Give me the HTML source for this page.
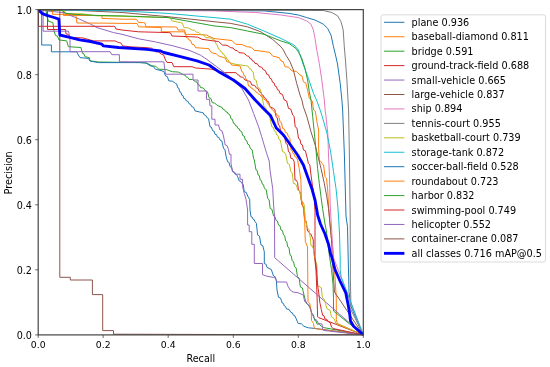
<!DOCTYPE html>
<html><head><meta charset="utf-8"><title>Precision-Recall curve</title>
<style>html,body{margin:0;padding:0;background:#fff;}svg{display:block;}text{font-family:"DejaVu Sans","Liberation Sans",sans-serif;fill:#000;}</style></head><body>
<svg width="550" height="367" viewBox="0 0 550 367">
<rect width="550" height="367" fill="#ffffff"/>
<g fill="none" stroke-width="1.0" stroke-linejoin="round" stroke-linecap="butt" clip-path="url(#clip)">
<defs><clipPath id="clip"><rect x="37.7" y="9.1" width="326.1" height="326.29999999999995"/></clipPath></defs>
<polyline stroke="#1f77b4" points="38.2,9.6 122.0,10.0 214.0,10.5 264.0,10.9 289.0,13.4 298.4,15.0 306.7,17.6 315.0,20.0 323.4,24.2 327.6,28.4 331.0,35.1 333.5,46.8 335.5,55.0 337.5,64.0 340.2,83.4 341.9,100.0 342.7,111.0 344.4,155.0 346.0,216.0 347.5,226.8 348.2,258.0 349.0,291.4 350.4,305.0 363.3,334.9"/>
<polyline stroke="#ff7f0e" points="38.2,9.6 63.3,9.8 63.3,15.4 102.0,15.5 102.0,18.4 122.0,19.2 134.5,19.2 136.8,19.6 138.7,22.6 143.7,22.6 145.0,23.1 146.0,26.8 161.0,26.8 175.5,27.0 176.9,27.4 178.0,30.0 184.7,30.0 185.0,34.3 197.0,34.5 206.3,35.0 214.0,38.5 227.4,40.0 232.0,40.5 235.7,44.3 242.1,44.6 247.4,46.8 251.0,47.2 254.0,50.2 265.8,51.8 269.5,52.3 272.5,56.0 279.2,57.7 281.0,61.0 283.2,61.7 285.0,66.7 288.7,67.2 291.7,70.9 296.3,71.4 300.0,75.0 301.9,75.8 303.4,81.8 305.7,82.8 307.6,90.0 309.3,98.5 311.0,100.0 312.4,101.2 313.6,110.0 315.4,111.4 316.9,121.7 318.6,130.0 318.6,148.5 319.4,161.0 320.7,161.3 321.8,163.4 323.6,165.0 325.0,176.7 326.5,178.3 327.7,190.0 328.5,205.0 329.3,216.0 331.0,235.0 333.0,250.0 335.0,277.0 336.3,298.6 336.3,319.7 337.3,323.4 340.2,324.8 363.3,334.9"/>
<polyline stroke="#2ca02c" points="38.2,9.6 46.0,10.0 46.9,15.9 48.5,21.4 52.9,22.5 54.0,31.2 55.6,35.5 57.4,36.0 58.9,39.9 66.7,40.9 68.4,46.7 80.9,47.5 82.6,53.4 83.9,53.8 85.0,56.7 89.3,57.6 90.0,60.9 98.5,62.0 140.0,62.6 146.6,63.0 152.0,65.9 155.7,66.3 158.8,69.2 166.2,69.5 172.2,71.7 178.6,72.1 183.9,75.0 185.3,75.3 186.4,77.2 187.8,77.4 188.9,79.3 192.6,79.6 195.6,81.8 197.0,82.1 198.1,84.7 199.5,85.0 200.6,87.6 203.3,88.0 205.6,91.0 207.5,91.8 209.0,97.7 210.8,98.3 212.3,102.7 214.7,103.0 216.7,105.0 220.0,106.7 221.6,107.0 222.8,109.2 224.4,109.5 225.7,111.7 227.2,112.0 228.5,114.2 229.9,114.8 231.0,118.8 232.4,119.4 233.5,123.4 234.7,123.7 235.7,125.9 237.0,126.2 238.0,128.5 239.2,128.8 240.2,131.0 241.6,131.5 242.8,135.5 244.2,136.0 245.3,140.0 246.7,140.5 247.8,144.2 249.2,144.8 250.3,148.5 252.1,149.7 253.6,158.5 254.3,160.0 256.0,170.0 257.2,170.6 258.1,175.0 259.3,175.6 260.2,180.0 261.4,180.5 262.3,184.2 263.5,184.7 264.4,188.4 266.2,189.6 267.7,198.5 269.1,199.7 270.2,208.5 272.0,209.4 273.5,215.9 274.9,216.4 276.0,220.4 277.4,221.0 278.5,225.0 279.9,225.6 281.0,230.0 282.4,230.6 283.5,235.0 284.7,235.7 285.6,240.9 286.8,241.6 287.7,246.8 289.0,247.8 290.0,255.0 291.2,255.7 292.2,260.8 293.5,261.5 294.5,266.6 296.1,267.8 297.5,276.8 299.1,278.0 300.4,287.0 302.4,288.0 304.0,295.0 306.0,303.0 308.2,305.0 310.4,308.0 311.8,314.0 313.4,314.8 314.7,320.5 316.0,320.9 317.0,324.0 319.4,324.3 321.3,326.3 324.2,327.7 363.3,334.9"/>
<polyline stroke="#d62728" points="38.2,9.6 47.5,10.0 47.5,29.5 65.5,29.5 66.0,33.9 68.2,34.3 70.0,37.5 82.9,37.9 93.4,40.9 115.0,40.9 118.5,42.5 120.8,42.9 122.7,45.9 130.0,46.8 147.0,47.7 151.6,48.2 155.4,51.7 158.6,52.0 161.3,54.2 163.6,54.9 165.5,60.0 167.0,62.5 172.0,62.5 173.8,66.7 192.0,66.7 195.6,68.0 212.0,69.2 216.7,71.0 225.0,72.6 235.0,72.6 236.4,72.9 237.5,74.7 238.9,75.0 240.0,76.8 242.8,77.2 245.0,80.0 248.5,81.0 250.3,81.5 251.8,85.0 254.6,85.4 256.9,88.5 258.3,88.9 259.4,91.8 260.8,92.1 261.9,95.0 263.3,95.4 264.4,98.0 265.8,98.4 266.9,101.0 268.6,101.7 270.0,106.9 273.4,108.4 274.8,109.4 276.0,116.7 277.3,117.7 278.4,125.0 279.6,125.7 280.5,130.5 281.7,131.2 282.6,136.0 284.5,136.9 286.0,143.5 287.4,144.5 288.5,151.8 289.8,152.6 290.9,158.3 292.7,158.7 294.2,161.7 295.0,180.0 296.4,180.3 297.6,182.6 298.4,190.0 300.0,191.8 302.0,205.0 303.4,206.7 304.5,219.5 306.1,220.9 307.5,231.0 308.7,231.3 309.6,233.7 310.8,234.0 311.8,236.3 313.3,240.0 313.3,247.0 314.7,258.0 316.0,270.0 317.0,295.0 317.6,316.8 318.4,317.5 363.3,334.9"/>
<polyline stroke="#9467bd" points="38.2,9.6 47.0,11.0 63.3,12.6 79.6,19.2 90.5,24.1 97.0,27.6 113.6,32.6 122.0,34.3 138.7,38.8 155.4,41.9 172.0,45.6 189.0,50.2 200.6,55.2 207.0,59.5 216.7,66.7 230.0,76.8 241.8,88.5 248.5,100.0 253.6,113.4 258.6,126.8 261.7,136.8 266.7,153.5 269.2,161.0 270.2,171.7 272.7,188.4 273.6,205.2 274.5,216.0 274.7,257.7 363.3,334.9"/>
<polyline stroke="#8c564b" points="38.2,9.6 80.0,10.5 122.0,12.5 168.0,16.7 214.0,21.7 230.7,23.4 247.4,26.8 260.8,31.8 272.5,39.3 281.0,46.8 283.4,50.0 286.0,55.2 290.0,61.7 293.4,70.0 296.7,83.4 300.0,95.0 301.9,100.0 303.4,106.9 306.9,116.7 311.0,131.8 315.2,145.0 317.6,155.0 321.0,168.4 324.3,183.4 326.8,196.8 328.5,208.5 329.3,216.0 331.5,240.0 333.0,270.0 334.5,292.0 363.3,334.9"/>
<polyline stroke="#e377c2" points="38.2,9.6 122.0,10.2 214.0,10.9 255.8,12.5 281.0,15.0 298.4,17.6 306.7,20.9 311.0,24.2 313.4,30.0 315.0,38.5 316.8,50.2 318.4,58.5 319.3,63.4 321.8,80.0 324.3,100.0 325.2,111.0 326.0,116.7 327.8,133.4 328.5,155.0 329.3,171.7 329.8,188.4 330.2,205.0 331.5,226.8 332.6,245.0 333.2,257.0 363.3,334.9"/>
<polyline stroke="#7f7f7f" points="38.2,9.6 323.4,10.5 331.8,12.5 337.7,15.9 341.0,21.7 343.2,30.0 344.3,46.8 345.5,61.0 346.9,80.0 348.6,111.0 349.4,155.0 350.2,216.0 350.4,280.0 351.0,310.0 363.3,334.9"/>
<polyline stroke="#bcbd22" points="38.2,9.6 62.0,10.5 64.2,10.9 66.0,13.5 82.5,13.8 96.0,15.8 122.0,16.3 168.8,17.6 170.6,18.0 172.0,20.9 180.5,22.6 182.4,23.2 184.0,27.6 188.4,27.9 192.0,30.0 194.4,30.3 196.3,32.1 198.7,32.4 200.6,34.3 203.3,34.7 205.6,37.6 210.2,37.9 214.0,40.0 215.2,40.5 216.2,44.5 217.4,45.0 218.4,49.0 219.6,49.3 220.6,51.6 221.8,51.9 222.8,54.1 224.0,54.4 225.0,56.7 226.2,57.0 227.2,59.6 228.3,59.9 229.3,62.5 235.0,64.2 246.8,65.9 248.2,66.2 249.3,68.4 250.7,68.7 251.8,70.9 253.2,71.9 254.3,79.3 256.2,80.3 257.7,87.6 259.5,88.1 261.0,91.8 262.7,100.0 264.0,106.7 265.6,107.4 267.0,112.6 268.6,113.3 270.0,118.4 271.8,126.8 273.2,127.3 274.3,130.9 275.7,131.4 276.8,135.0 278.0,135.5 278.9,139.2 280.1,139.8 281.0,143.5 282.6,151.8 284.4,152.2 285.9,155.0 287.5,163.4 289.4,164.4 290.9,171.7 292.3,173.1 293.4,183.4 295.2,183.7 296.7,186.0 297.6,190.0 298.9,190.3 300.0,192.6 301.7,201.8 303.1,202.2 304.2,205.0 305.3,219.5 307.5,228.3 309.1,229.5 310.4,238.5 311.0,245.7 312.3,246.0 313.3,248.6 314.7,258.0 316.9,265.0 317.6,285.5 321.3,287.7 322.3,297.2 324.2,299.4 325.6,303.7 327.0,308.8 330.0,310.3 331.5,316.8 334.4,319.0 335.8,323.4 339.5,324.8 363.3,334.9"/>
<polyline stroke="#17becf" points="38.2,9.6 122.0,10.9 168.0,13.4 214.0,17.6 230.7,19.2 247.4,24.2 264.0,31.0 281.0,38.5 294.0,45.0 298.4,50.0 303.4,65.0 308.4,78.4 313.5,93.5 316.5,100.0 320.5,111.0 322.3,116.7 327.0,133.4 330.3,150.0 332.0,161.0 333.5,171.7 336.0,188.4 337.7,205.2 338.5,216.0 339.5,234.0 340.2,258.0 340.2,269.5 341.2,277.0 363.3,334.9"/>
<polyline stroke="#1f77b4" points="38.2,9.6 41.7,9.8 41.7,45.0 51.4,45.0 51.4,51.8 76.7,51.8 78.4,55.0 80.0,57.6 88.4,58.4 90.0,61.0 98.5,62.6 140.4,62.6 145.9,63.0 150.4,65.9 153.2,66.3 155.4,69.2 162.0,70.9 163.9,71.5 165.5,75.9 167.3,76.5 168.8,80.9 172.5,81.2 175.5,83.4 176.7,83.9 177.6,87.6 178.8,88.1 179.7,91.8 180.9,92.2 181.8,95.2 183.0,95.6 183.9,98.5 185.3,98.8 186.5,101.0 187.9,101.3 189.1,103.8 190.5,104.2 191.7,106.7 193.5,107.2 195.0,110.9 201.8,112.5 203.2,112.8 204.3,115.0 205.7,115.4 206.8,117.6 208.6,118.7 210.0,126.8 211.4,127.2 212.5,130.6 213.9,131.0 215.0,134.3 216.4,134.6 217.5,137.2 218.9,137.5 220.0,140.0 221.9,141.0 223.5,148.5 224.9,149.4 226.0,156.0 227.6,161.7 229.0,162.3 230.1,166.7 231.5,167.3 232.6,171.7 234.0,172.0 235.1,174.2 236.5,174.5 237.6,176.7 239.3,181.0 240.7,181.3 241.8,183.4 243.2,184.4 244.3,191.8 246.2,192.3 247.7,196.0 249.7,199.3 250.0,210.0 251.0,216.7 252.1,217.0 253.0,219.2 254.1,219.5 255.0,221.7 256.4,223.3 257.6,235.0 259.5,236.2 261.0,245.0 262.8,245.8 264.3,251.8 264.3,263.5 265.8,264.0 267.0,267.4 271.3,269.5 273.5,276.0 275.1,276.6 276.4,281.0 277.0,290.0 278.5,297.3 280.5,298.0 282.2,303.0 283.4,303.4 284.4,306.0 285.5,306.4 286.5,309.0 289.0,309.4 291.0,312.5 292.4,312.9 293.5,315.4 294.9,315.8 296.0,318.4 298.2,323.5 301.4,323.8 304.0,326.4 308.4,327.8 315.6,328.5 363.3,334.9"/>
<polyline stroke="#ff7f0e" points="38.2,9.6 52.4,9.8 52.4,14.3 74.7,14.5 75.9,15.5 76.9,23.0 110.0,23.2 122.0,23.4 137.0,23.4 138.7,26.8 161.3,27.5 161.3,31.8 183.9,31.8 185.3,32.5 186.4,37.6 187.8,37.9 189.0,40.0 190.7,40.5 192.0,44.3 194.0,44.7 195.6,47.7 207.0,48.5 209.0,48.9 210.6,51.8 213.4,53.3 216.2,53.6 218.4,55.9 223.4,57.5 225.3,58.0 226.8,61.7 229.6,62.1 231.8,65.0 240.0,65.9 241.8,71.7 243.0,72.2 243.9,75.5 245.1,76.0 246.0,79.3 247.4,80.1 248.5,86.0 249.9,86.2 251.0,88.0 252.4,88.2 253.5,90.0 254.9,90.3 256.0,92.2 257.4,92.4 258.5,94.3 259.9,94.6 261.0,96.4 262.4,96.7 263.5,98.5 265.0,100.0 266.4,100.5 267.5,103.8 268.9,104.2 270.0,107.5 271.2,107.8 272.3,110.0 273.5,110.3 274.5,112.5 275.8,112.8 276.8,115.0 278.6,115.8 280.0,121.7 281.4,122.5 282.6,128.4 284.2,128.9 285.6,132.6 287.2,133.1 288.5,136.8 289.9,138.4 291.0,150.0 292.1,150.4 293.0,153.4 294.1,153.9 295.0,156.9 296.4,157.3 297.6,160.0 299.2,168.4 300.9,180.0 301.4,198.5 303.4,208.5 304.5,216.6 305.3,241.4 307.5,247.0 308.0,301.5 309.8,303.8 311.3,311.8 311.5,320.5 313.5,323.5 314.2,327.8 315.5,328.7 363.3,334.9"/>
<polyline stroke="#2ca02c" points="38.2,9.6 62.0,10.5 65.5,13.2 74.2,14.3 96.0,15.4 122.0,15.9 168.0,17.6 214.0,25.9 230.7,27.6 247.4,31.0 264.0,34.3 272.5,37.6 281.0,41.0 289.0,43.5 296.0,48.5 299.0,53.0 301.8,58.4 305.0,68.4 307.6,80.0 309.3,91.8 311.0,100.0 312.7,116.7 314.4,133.4 316.0,150.0 317.6,168.4 319.3,183.4 321.0,196.8 322.6,208.5 325.0,224.0 326.4,231.0 329.3,255.0 331.5,269.5 333.0,284.0 333.5,298.6 333.5,311.0 363.3,334.9"/>
<polyline stroke="#d62728" points="38.2,9.6 38.4,26.3 113.6,26.3 114.9,26.6 116.0,29.0 122.0,30.0 138.7,31.8 168.8,32.6 170.6,33.0 172.0,36.0 192.0,36.8 197.5,37.1 202.0,39.3 214.0,41.0 218.6,41.5 222.4,45.0 227.0,45.3 230.7,47.7 233.0,48.0 234.8,50.2 237.1,50.5 239.0,52.7 243.6,53.1 247.4,56.0 248.8,56.3 249.9,58.5 251.4,58.8 252.5,61.0 253.9,61.3 255.0,63.4 257.3,63.8 259.2,66.7 261.6,67.1 263.5,70.0 265.3,70.5 266.8,74.2 268.5,74.7 270.0,78.4 271.4,78.9 272.5,82.2 273.9,82.7 275.0,86.0 276.4,86.5 277.5,89.8 278.9,90.2 280.0,93.5 282.4,94.3 284.3,100.0 286.6,101.0 288.5,108.4 290.8,109.2 292.7,115.0 294.1,116.4 295.2,126.8 297.0,128.2 298.5,138.5 299.9,139.2 301.0,144.2 302.4,144.9 303.5,150.0 305.4,150.8 306.9,156.9 308.4,163.4 309.8,164.8 311.0,175.0 312.6,186.8 314.3,196.8 315.0,211.9 315.0,258.0 316.2,266.6 317.5,284.0 319.0,295.0 319.8,302.3 321.3,309.5 322.7,315.4 324.0,315.8 325.0,319.0 326.9,319.4 328.5,322.0 330.1,322.6 331.5,327.0 333.0,328.5 363.3,334.9"/>
<polyline stroke="#9467bd" points="38.2,9.6 43.1,9.8 43.1,31.2 68.7,31.2 70.0,40.0 70.0,51.7 110.2,51.7 111.8,54.7 119.4,54.7 119.4,61.8 163.8,61.8 165.5,74.2 193.0,74.2 193.0,80.0 198.0,80.0 198.0,91.0 206.5,91.0 206.5,99.3 209.5,99.3 210.0,105.9 211.8,105.9 211.8,119.2 215.0,119.2 215.0,125.0 218.5,125.0 220.0,130.0 221.9,130.7 223.5,136.0 225.2,145.0 227.0,145.5 228.5,149.3 229.4,154.3 231.0,154.3 231.0,163.4 232.6,171.7 234.5,172.0 236.0,174.2 240.0,174.2 240.0,179.2 242.6,179.2 242.6,186.8 244.3,193.5 246.0,199.3 247.6,210.0 247.6,225.0 249.2,225.0 249.2,231.7 251.8,231.7 251.8,244.3 254.3,244.3 254.3,263.5 262.5,263.5 262.5,274.6 266.2,276.0 273.5,277.5 275.4,278.0 277.0,282.0 286.5,282.0 288.0,286.3 290.2,290.0 293.0,292.0 298.2,292.8 303.3,295.0 304.7,301.5 306.3,301.9 307.6,304.5 309.1,305.1 310.4,309.5 312.5,314.6 314.0,318.3 317.0,320.5 318.4,323.4 322.0,324.0 322.7,330.0 325.0,330.6 363.3,334.9"/>
<polyline stroke="#8c564b" points="38.2,9.6 59.8,10.0 59.8,277.3 70.3,277.3 70.3,280.0 92.4,280.0 92.4,294.6 102.7,294.6 102.7,330.6 113.5,330.6 113.5,334.2 363.3,334.9"/>
<polyline stroke="#0000ff" stroke-width="2.85" points="38.2,9.6 42.5,13.7 46.9,15.4 52.4,17.0 58.9,19.2 59.8,35.0 68.7,37.2 79.6,39.9 90.5,41.5 101.8,44.2 103.5,45.9 118.5,47.5 147.0,49.3 160.5,51.0 163.8,52.5 180.5,56.7 197.0,60.9 209.0,65.0 220.0,72.6 233.4,80.0 245.0,88.5 255.2,100.0 263.4,108.4 270.5,115.5 273.5,122.0 276.3,128.0 283.5,135.0 291.8,146.8 297.6,155.0 303.4,165.0 307.6,176.7 311.8,188.4 315.0,200.0 316.8,210.0 317.6,215.0 320.5,224.0 325.0,234.0 328.5,244.3 330.7,254.5 331.5,256.0 335.0,269.5 340.0,281.0 345.8,293.0 348.2,305.0 349.6,313.0 350.5,321.0 353.6,326.2 363.3,334.9"/>
</g>
<rect x="38.2" y="9.6" width="325.1" height="325.29999999999995" fill="none" stroke="#444444" stroke-width="1.2"/>
<g stroke="#444444" stroke-width="0.8">
<line x1="38.2" y1="334.9" x2="38.2" y2="337.9"/>
<line x1="38.2" y1="334.9" x2="35.2" y2="334.9"/>
<line x1="103.2" y1="334.9" x2="103.2" y2="337.9"/>
<line x1="38.2" y1="269.8" x2="35.2" y2="269.8"/>
<line x1="168.2" y1="334.9" x2="168.2" y2="337.9"/>
<line x1="38.2" y1="204.8" x2="35.2" y2="204.8"/>
<line x1="233.3" y1="334.9" x2="233.3" y2="337.9"/>
<line x1="38.2" y1="139.7" x2="35.2" y2="139.7"/>
<line x1="298.3" y1="334.9" x2="298.3" y2="337.9"/>
<line x1="38.2" y1="74.7" x2="35.2" y2="74.7"/>
<line x1="363.3" y1="334.9" x2="363.3" y2="337.9"/>
<line x1="38.2" y1="9.6" x2="35.2" y2="9.6"/>
</g>
<g font-size="9.3">
<text x="38.2" y="348.4" text-anchor="middle">0.0</text>
<text x="31.9" y="339.1" font-size="9.6" text-anchor="end">0.0</text>
<text x="103.2" y="348.4" text-anchor="middle">0.2</text>
<text x="31.9" y="274.1" font-size="9.6" text-anchor="end">0.2</text>
<text x="168.2" y="348.4" text-anchor="middle">0.4</text>
<text x="31.9" y="209.0" font-size="9.6" text-anchor="end">0.4</text>
<text x="233.3" y="348.4" text-anchor="middle">0.6</text>
<text x="31.9" y="144.0" font-size="9.6" text-anchor="end">0.6</text>
<text x="298.3" y="348.4" text-anchor="middle">0.8</text>
<text x="31.9" y="78.9" font-size="9.6" text-anchor="end">0.8</text>
<text x="363.3" y="348.4" text-anchor="middle">1.0</text>
<text x="31.9" y="13.9" font-size="9.6" text-anchor="end">1.0</text>
<text x="200.8" y="362.0" font-size="9.6" text-anchor="middle">Recall</text>
<text transform="translate(12.4,172.9) rotate(-90)" font-size="9.7" text-anchor="middle">Precision</text>
</g>
<rect x="381.0" y="14.8" width="164.5" height="247.2" rx="2" ry="2" fill="#ffffff" fill-opacity="0.8" stroke="#d2d2d2" stroke-width="0.8"/>
<g stroke-width="1.0" fill="none">
<line x1="384.0" y1="22.30" x2="404.4" y2="22.30" stroke="#1f77b4"/>
<line x1="384.0" y1="36.74" x2="404.4" y2="36.74" stroke="#ff7f0e"/>
<line x1="384.0" y1="51.18" x2="404.4" y2="51.18" stroke="#2ca02c"/>
<line x1="384.0" y1="65.62" x2="404.4" y2="65.62" stroke="#d62728"/>
<line x1="384.0" y1="80.06" x2="404.4" y2="80.06" stroke="#9467bd"/>
<line x1="384.0" y1="94.50" x2="404.4" y2="94.50" stroke="#8c564b"/>
<line x1="384.0" y1="108.94" x2="404.4" y2="108.94" stroke="#e377c2"/>
<line x1="384.0" y1="123.38" x2="404.4" y2="123.38" stroke="#7f7f7f"/>
<line x1="384.0" y1="137.82" x2="404.4" y2="137.82" stroke="#bcbd22"/>
<line x1="384.0" y1="152.26" x2="404.4" y2="152.26" stroke="#17becf"/>
<line x1="384.0" y1="166.70" x2="404.4" y2="166.70" stroke="#1f77b4"/>
<line x1="384.0" y1="181.14" x2="404.4" y2="181.14" stroke="#ff7f0e"/>
<line x1="384.0" y1="195.58" x2="404.4" y2="195.58" stroke="#2ca02c"/>
<line x1="384.0" y1="210.02" x2="404.4" y2="210.02" stroke="#d62728"/>
<line x1="384.0" y1="224.46" x2="404.4" y2="224.46" stroke="#9467bd"/>
<line x1="384.0" y1="238.90" x2="404.4" y2="238.90" stroke="#8c564b"/>
<line x1="384.0" y1="253.34" x2="404.4" y2="253.34" stroke="#0000ff" stroke-width="2.85"/>
</g>
<g font-size="9.7">
<text x="411.6" y="25.80">plane 0.936</text>
<text x="411.6" y="40.24">baseball-diamond 0.811</text>
<text x="411.6" y="54.68">bridge 0.591</text>
<text x="411.6" y="69.12">ground-track-field 0.688</text>
<text x="411.6" y="83.56">small-vehicle 0.665</text>
<text x="411.6" y="98.00">large-vehicle 0.837</text>
<text x="411.6" y="112.44">ship 0.894</text>
<text x="411.6" y="126.88">tennis-court 0.955</text>
<text x="411.6" y="141.32">basketball-court 0.739</text>
<text x="411.6" y="155.76">storage-tank 0.872</text>
<text x="411.6" y="170.20">soccer-ball-field 0.528</text>
<text x="411.6" y="184.64">roundabout 0.723</text>
<text x="411.6" y="199.08">harbor 0.832</text>
<text x="411.6" y="213.52">swimming-pool 0.749</text>
<text x="411.6" y="227.96">helicopter 0.552</text>
<text x="411.6" y="242.40">container-crane 0.087</text>
<text x="411.6" y="256.84">all classes 0.716 mAP@0.5</text>
</g>
</svg></body></html>
